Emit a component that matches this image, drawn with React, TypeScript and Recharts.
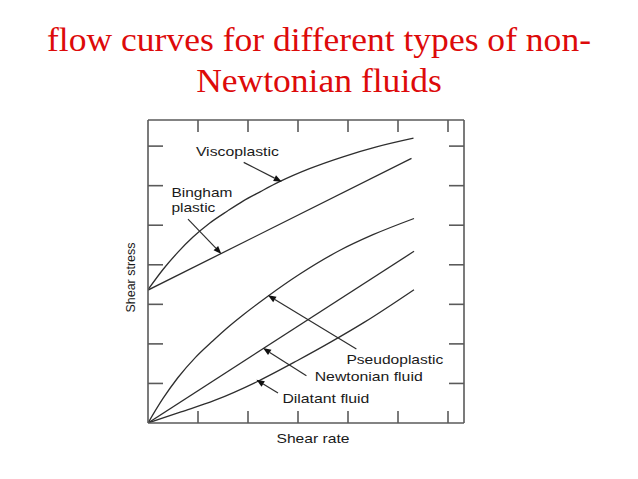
import { LineChart, Line, XAxis, YAxis, ReferenceLine, ReferenceDot } from "recharts";

/* ── curve readings (x = shear rate, y = shear stress, tick units) ── */
const viscoX = [0, 0.3, 0.6, 0.9, 1.23, 1.59, 1.9, 2.25, 2.63, 3.23, 3.9, 4.57, 5.31];
const viscoY = [3.37, 3.88, 4.32, 4.7, 5.05, 5.36, 5.61, 5.85, 6.1, 6.43, 6.73, 6.98, 7.2];
const binghamX = [0, 5.27];
const binghamY = [3.36, 6.69];
const pseudoX = [0, 0.3, 0.6, 0.95, 1.3, 1.6, 1.9, 2.37, 3.03, 3.83, 4.5, 5.32];
const pseudoY = [0, 0.62, 1.15, 1.66, 2.08, 2.42, 2.73, 3.18, 3.76, 4.36, 4.76, 5.17];
const newtonX = [0, 5.32];
const newtonY = [0, 4.34];
const dilatantX = [0, 0.66, 1.33, 2.19, 2.99, 3.66, 4.33, 5.32];
const dilatantY = [0, 0.28, 0.57, 1.05, 1.58, 2.05, 2.55, 3.37];

const xTicks = [1, 2, 3, 4, 5, 6];
const yTicks = [1, 2, 3, 4, 5, 6, 7];

const toRows = (xs: number[], ys: number[]) => xs.map((x, i) => ({ x, y: ys[i] }));

const series = [
  toRows(viscoX, viscoY),
  toRows(binghamX, binghamY),
  toRows(pseudoX, pseudoY),
  toRows(newtonX, newtonY),
  toRows(dilatantX, dilatantY),
];

/* ── callouts: label anchor + arrow from label to curve ── */
const notes = [
  { text: "Viscoplastic", x: 0.958, y: 6.755, w: 83 },
  { text: "Bingham", x: 0.468, y: 5.722, w: 61 },
  { text: "plastic", x: 0.468, y: 5.343, w: 44 },
  { text: "Pseudoplastic", x: 3.968, y: 1.497, w: 97 },
  { text: "Newtonian fluid", x: 3.334, y: 1.05, w: 108 },
  { text: "Dilatant fluid", x: 2.688, y: 0.505, w: 87 },
];

const arrows = [
  { from: [1.914, 6.588], to: [2.674, 6.098] },
  { from: [0.8, 5.152], to: [1.468, 4.275] },
  { from: [4.168, 1.869], to: [2.4, 3.23] },
  { from: [3.168, 1.194], to: [2.3, 1.894] },
  { from: [2.6, 0.758], to: [2.168, 1.093] },
];

const INK = "#2e2e2e";
const FRAME = "#5a5a5a";
const SANS = "'Liberation Sans', Arial, sans-serif";
const SERIF = "'Liberation Serif', 'Times New Roman', serif";

function Arrow(p: any) {
  const { x1, y1, x2, y2 } = p;
  const a = Math.atan2(y2 - y1, x2 - x1);
  const len = 8;
  const half = 3.2;
  const bx = x2 - len * Math.cos(a);
  const by = y2 - len * Math.sin(a);
  const nx = -Math.sin(a) * half;
  const ny = Math.cos(a) * half;
  return (
    <g>
      <line x1={x1} y1={y1} x2={bx} y2={by} stroke={INK} strokeWidth={1.2} />
      <polygon points={`${x2},${y2} ${bx + nx},${by + ny} ${bx - nx},${by - ny}`} fill="#111" />
    </g>
  );
}

const axisCommon = {
  axisLine: { stroke: FRAME, strokeWidth: 1.6 },
  tickLine: { stroke: FRAME, strokeWidth: 1.6 },
  tickFormatter: () => "",
  interval: 0 as const,
  allowDataOverflow: true,
};

const titleLine = (top: number): React.CSSProperties => ({
  position: "absolute",
  left: 0,
  width: 638,
  top,
  textAlign: "center",
  fontFamily: SERIF,
  fontSize: 34,
  lineHeight: "34px",
  color: "#dd0a0a",
  whiteSpace: "nowrap",
  transform: "scaleX(1.045)",
});

export default function App() {
  return (
    <div style={{ position: "absolute", left: 0, top: 0, width: 638, height: 479, background: "#fff" }}>
      <div style={titleLine(22.5)}>flow curves for different types of non-</div>
      <div style={titleLine(63.5)}>Newtonian fluids</div>

      <LineChart width={638} height={479} margin={{ top: 119, right: 173, bottom: 55, left: 147 }}>
        <XAxis
          xAxisId="b"
          type="number"
          dataKey="x"
          domain={[0, 6.32]}
          ticks={xTicks}
          orientation="bottom"
          height={1}
          tickSize={-12}
          {...axisCommon}
          label={{
            content: (lp: any) => {
              const vb = lp.viewBox || { x: 148, y: 423, width: 316 };
              return (
                <text
                  x={vb.x + vb.width / 2 + 7}
                  y={vb.y + 20}
                  textAnchor="middle"
                  fontFamily={SANS}
                  fontSize={13}
                  fill="#1a1a1a"
                  textLength={73}
                  lengthAdjust="spacingAndGlyphs"
                >
                  Shear rate
                </text>
              );
            },
          }}
        />
        <XAxis
          xAxisId="t"
          type="number"
          dataKey="x"
          domain={[0, 6.32]}
          ticks={xTicks}
          orientation="top"
          height={1}
          tickSize={-12}
          {...axisCommon}
        />
        <YAxis
          yAxisId="l"
          type="number"
          domain={[0, 7.66]}
          ticks={yTicks}
          orientation="left"
          width={1}
          tickSize={-15}
          {...axisCommon}
          label={{
            content: (lp: any) => {
              const vb = lp.viewBox || { x: 147, y: 120, width: 1, height: 303 };
              const cx = vb.x + vb.width - 13;
              const cy = vb.y + vb.height / 2 + 6;
              return (
                <text
                  x={cx}
                  y={cy}
                  transform={`rotate(-90 ${cx} ${cy})`}
                  textAnchor="middle"
                  fontFamily={SANS}
                  fontSize={13.5}
                  fill="#1a1a1a"
                  textLength={70}
                  lengthAdjust="spacingAndGlyphs"
                >
                  Shear stress
                </text>
              );
            },
          }}
        />
        <YAxis
          yAxisId="r"
          type="number"
          domain={[0, 7.66]}
          ticks={yTicks}
          orientation="right"
          width={1}
          tickSize={-15}
          {...axisCommon}
        />

        {series.map((rows, i) => (
          <Line
            key={i}
            xAxisId="b"
            yAxisId="l"
            data={rows}
            dataKey="y"
            type="monotone"
            dot={false}
            activeDot={false}
            stroke={INK}
            strokeWidth={1.3}
            isAnimationActive={false}
          />
        ))}
        {/* invisible copy so the top and right axes get ticks */}
        <Line
          xAxisId="t"
          yAxisId="r"
          data={series[3]}
          dataKey="y"
          type="linear"
          dot={false}
          activeDot={false}
          stroke="none"
          isAnimationActive={false}
        />

        {arrows.map((a, i) => (
          <ReferenceLine
            key={`a${i}`}
            xAxisId="b"
            yAxisId="l"
            segment={[
              { x: a.from[0], y: a.from[1] },
              { x: a.to[0], y: a.to[1] },
            ]}
            shape={Arrow}
          />
        ))}

        {notes.map((n, i) => (
          <ReferenceDot
            key={`n${i}`}
            xAxisId="b"
            yAxisId="l"
            x={n.x}
            y={n.y}
            r={0}
            shape={(p: any) => (
              <text
                x={p.cx}
                y={p.cy}
                fontFamily={SANS}
                fontSize={13}
                fill="#1a1a1a"
                textLength={n.w}
                lengthAdjust="spacingAndGlyphs"
              >
                {n.text}
              </text>
            )}
          />
        ))}
      </LineChart>
    </div>
  );
}
